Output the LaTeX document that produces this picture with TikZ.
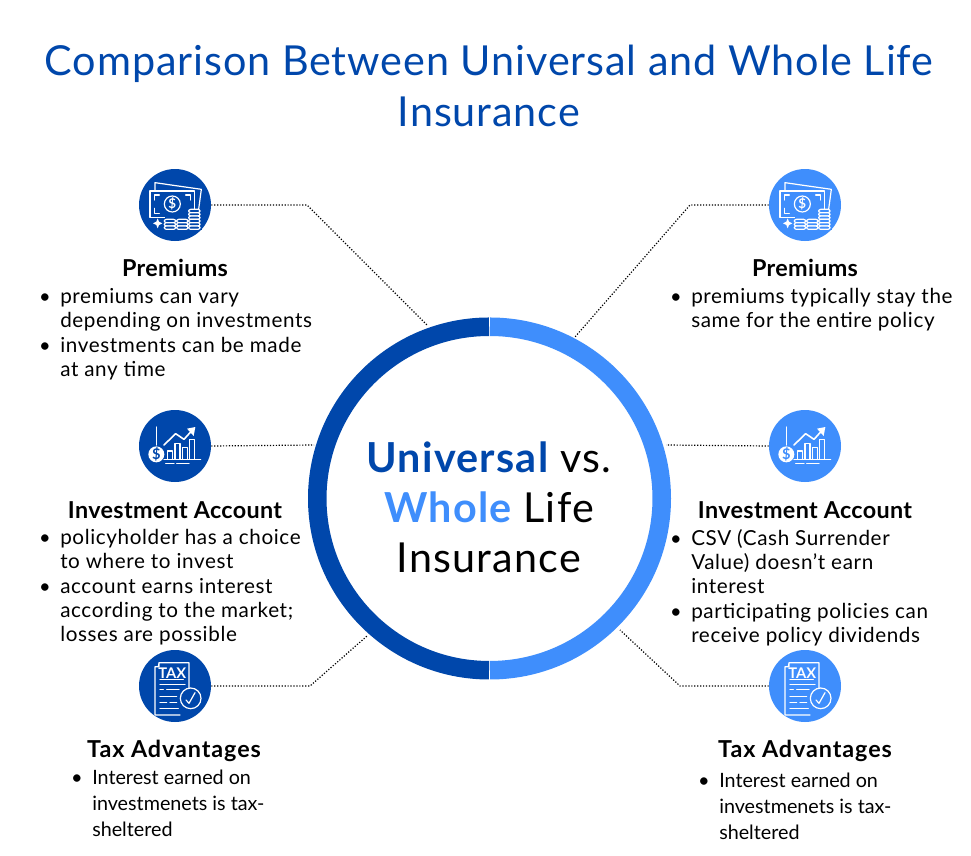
\documentclass[tikz,border=0pt]{standalone}
\usepackage{fontspec}
\setmainfont{Lato}
\usetikzlibrary{arrows.meta}
\definecolor{dkblue}{HTML}{0047AB}
\definecolor{ltblue}{HTML}{3F8EFC}
\newcommand{\blt}{\makebox[12.75pt][l]{\hspace{-3.2pt}\smash{\fontsize{15}{15}\selectfont •}}}
\newcommand{\cnt}{\hspace*{12.75pt}}
\tikzset{
  x=0.75pt,y=-0.75pt,
  titletext/.style={inner sep=0pt,text=dkblue,font=\fontsize{31}{38}\selectfont\addfontfeatures{LetterSpace=2.2},align=center},
  centertext/.style={inner sep=0pt,font=\fontsize{31}{37.5}\selectfont\addfontfeatures{LetterSpace=3},align=center},
  headtext/.style={inner sep=0pt,anchor=base,font=\fontsize{17.5}{20}\selectfont\bfseries\addfontfeatures{LetterSpace=1.5}},
  taxhead/.style={inner sep=0pt,anchor=base,font=\fontsize{17.5}{20}\selectfont\bfseries\addfontfeatures{LetterSpace=4}},
  bodytext/.style={inner sep=0pt,anchor=north west,align=left,font=\fontsize{15.5}{18.25}\selectfont\addfontfeatures{LetterSpace=3}},
  taxbody/.style={inner sep=0pt,anchor=north west,align=left,font=\fontsize{14.8}{19.5}\selectfont},
  iconcircle/.style={circle,inner sep=0pt,minimum size=54pt},
  connector/.style={draw=black,line width=0.9pt,dash pattern=on 0.9pt off 1.3pt},
  iconline/.style={draw=white,line width=0.9pt,line join=round,line cap=round},
  ringarc/.style={line width=13.9pt,line cap=butt}
}
% icons drawn in zoom units (1/3 px), relative to the circle centre
\newcommand{\moneyicon}[2]{%
 \begin{scope}[shift={(#1)},x=0.25pt,y=-0.25pt]
  \draw[iconline] (-60,-42) -- (-60,-67) -- (79,-47) -- (70,20);
  \draw[iconline] (-75,-42) rectangle (59,37);
  \draw[iconline] (-62,-15) -- (-62,-30) -- (-47,-30) (32,-30) -- (47,-30) -- (47,-15) (-62,10) -- (-62,25) -- (-47,25);
  \draw[iconline] (-8,-3) circle[radius=24];
  \node[inner sep=0pt,text=white,font=\fontsize{10}{10}\selectfont\bfseries] at (-8,-3) {\$};
  \fill[white] (-52,40) -- (-48,50) -- (-38,55) -- (-48,60) -- (-52,70) -- (-56,60) -- (-66,55) -- (-56,50) -- cycle;
  \fill[#2] (-30,35) rectangle (82,75);
  \foreach \cx/\ys in {-15/{48,58,68},22/{48,58,68},58/{18,28,38,48,58,68}}{
   \foreach \cy in \ys {\draw[iconline,fill=#2,rounded corners=1.5pt] (\cx-17,\cy-5) rectangle (\cx+17,\cy+5);}
  }
 \end{scope}}
\newcommand{\chartlcon}[2]{%
 \begin{scope}[shift={(#1)},x=0.25pt,y=-0.25pt]
  \draw[iconline] (-56,-57) -- (-56,-3);
  \draw[iconline] (-33,40) -- (77,40);
  \draw[iconline] (-28,52) -- (-3,52) (5,52) -- (42,52);
  \draw[iconline] (-23,40) -- (-23,15) -- (-8,15) -- (-8,40) (0,40) -- (0,-8) -- (15,-8) -- (15,40) (22,40) -- (22,5) -- (37,5) -- (37,40) (44,40) -- (44,-20) -- (59,-20) -- (59,40);
  \draw[iconline,line width=1.2pt] (-33,-3) -- (2,-37) -- (27,-20) -- (56,-52);
  \fill[white] (61,-57) -- (36,-52) -- (56,-30) -- cycle;
  \fill[white] (-56,25) circle[radius=24];
  \node[inner sep=0pt,text=#2,font=\fontsize{11}{11}\selectfont\bfseries] at (-56,25) {\$};
 \end{scope}}
\newcommand{\taxicon}[2]{%
 \begin{scope}[shift={(#1)},x=0.25pt,y=-0.25pt]
  \draw[iconline] (-50,-58) -- (-48,-70) -- (42,-70) -- (42,12) (15,87) -- (-60,87) -- (-60,-58) -- (-48,-58) -- (-48,-70);
  \node[inner sep=0pt,text=white,font=\fontsize{11}{11}\selectfont\bfseries] at (-8,-38) {TAX};
  \draw[iconline] (-45,-20) -- (25,-20) (-45,-5) -- (30,-5);
  \draw[iconline] (-45,10) -- (-35,10) (-25,10) -- (12,10);
  \draw[iconline] (-45,32) -- (5,32) (-45,50) -- (-25,50) (-15,50) -- (5,50) (-45,68) -- (10,68);
  \draw[iconline,fill=#2] (47,37) circle[radius=31];
  \draw[iconline] (33,42) -- (42,52) -- (60,20);
 \end{scope}}
\begin{document}
\begin{tikzpicture}
\useasboundingbox[fill=white] (0,0) rectangle (971,856);
% title
\node[titletext] (title) at (489,86) {Comparison Between Universal and Whole Life\\Insurance};
% ring
\coordinate (ringc) at (489,498.5);
\draw[ringarc,dkblue] (489,326.75) arc[start angle=90,end angle=270,radius=128.8pt];
\draw[ringarc,ltblue] (490,326.75) arc[start angle=90,end angle=-90,radius=128.8pt];
\node[centertext] (center) at (489,507) {\textcolor{dkblue}{\bfseries Universal} vs.\\\textcolor{ltblue}{\bfseries Whole} Life\\Insurance};
% icon circles
\node[iconcircle,fill=dkblue] (l1) at (175,205) {};
\node[iconcircle,fill=dkblue] (l2) at (175,446) {};
\node[iconcircle,fill=dkblue] (l3) at (175,686) {};
\node[iconcircle,fill=ltblue] (r1) at (805,205) {};
\node[iconcircle,fill=ltblue] (r2) at (805,446) {};
\node[iconcircle,fill=ltblue] (r3) at (805,686) {};
\moneyicon{l1}{dkblue}
\chartlcon{l2}{dkblue}
\taxicon{l3}{dkblue}
\moneyicon{r1}{ltblue}
\chartlcon{r2}{ltblue}
\taxicon{r3}{ltblue}
% connector ends on the ring
\coordinate (e1) at (428,326);
\coordinate (e2) at (314,445);
\coordinate (e3) at (367,636);
\coordinate (e4) at (575,337);
\coordinate (e5) at (666,445);
\coordinate (e6) at (620,630);
\draw[connector] (l1.east) -- (307,205) -- (e1);
\draw[connector] (l2.east) -- (e2);
\draw[connector] (l3.east) -- (310,686) -- (e3);
\draw[connector] (r1.west) -- (690,205) -- (e4);
\draw[connector] (r2.west) -- (e5);
\draw[connector] (r3.west) -- (680,686) -- (e6);
% left texts
\node[headtext] (h1) at (175,276) {Premiums};
\node[bodytext] (b1) at (43,288) {\blt premiums can vary\\\cnt depending on investments\\\blt investments can be made\\\cnt at any time};
\node[headtext] (h2) at (175,518) {Investment Account};
\node[bodytext] (b2) at (43,529) {\blt policyholder has a choice\\\cnt to where to invest\\\blt account earns interest\\\cnt according to the market;\\\cnt losses are possible};
\node[taxhead] (h3) at (174,757) {Tax Advantages};
\node[taxbody] (b3) at (75,770) {\blt Interest earned on\\\cnt investmenets is tax-\\\cnt sheltered};
% right texts
\node[headtext] (h4) at (805,276) {Premiums};
\node[bodytext] (b4) at (674,288) {\blt premiums typically stay the\\\cnt same for the entire policy};
\node[headtext] (h5) at (805,518) {Investment Account};
\node[bodytext] (b5) at (674,529) {\blt CSV (Cash Surrender\\\cnt Value) doesn't earn\\\cnt interest\\\blt participating policies can\\\cnt receive policy dividends};
\node[taxhead] (h6) at (805,757) {Tax Advantages};
\node[taxbody] (b6) at (702,773) {\blt Interest earned on\\\cnt investmenets is tax-\\\cnt sheltered};
\end{tikzpicture}
\end{document}
